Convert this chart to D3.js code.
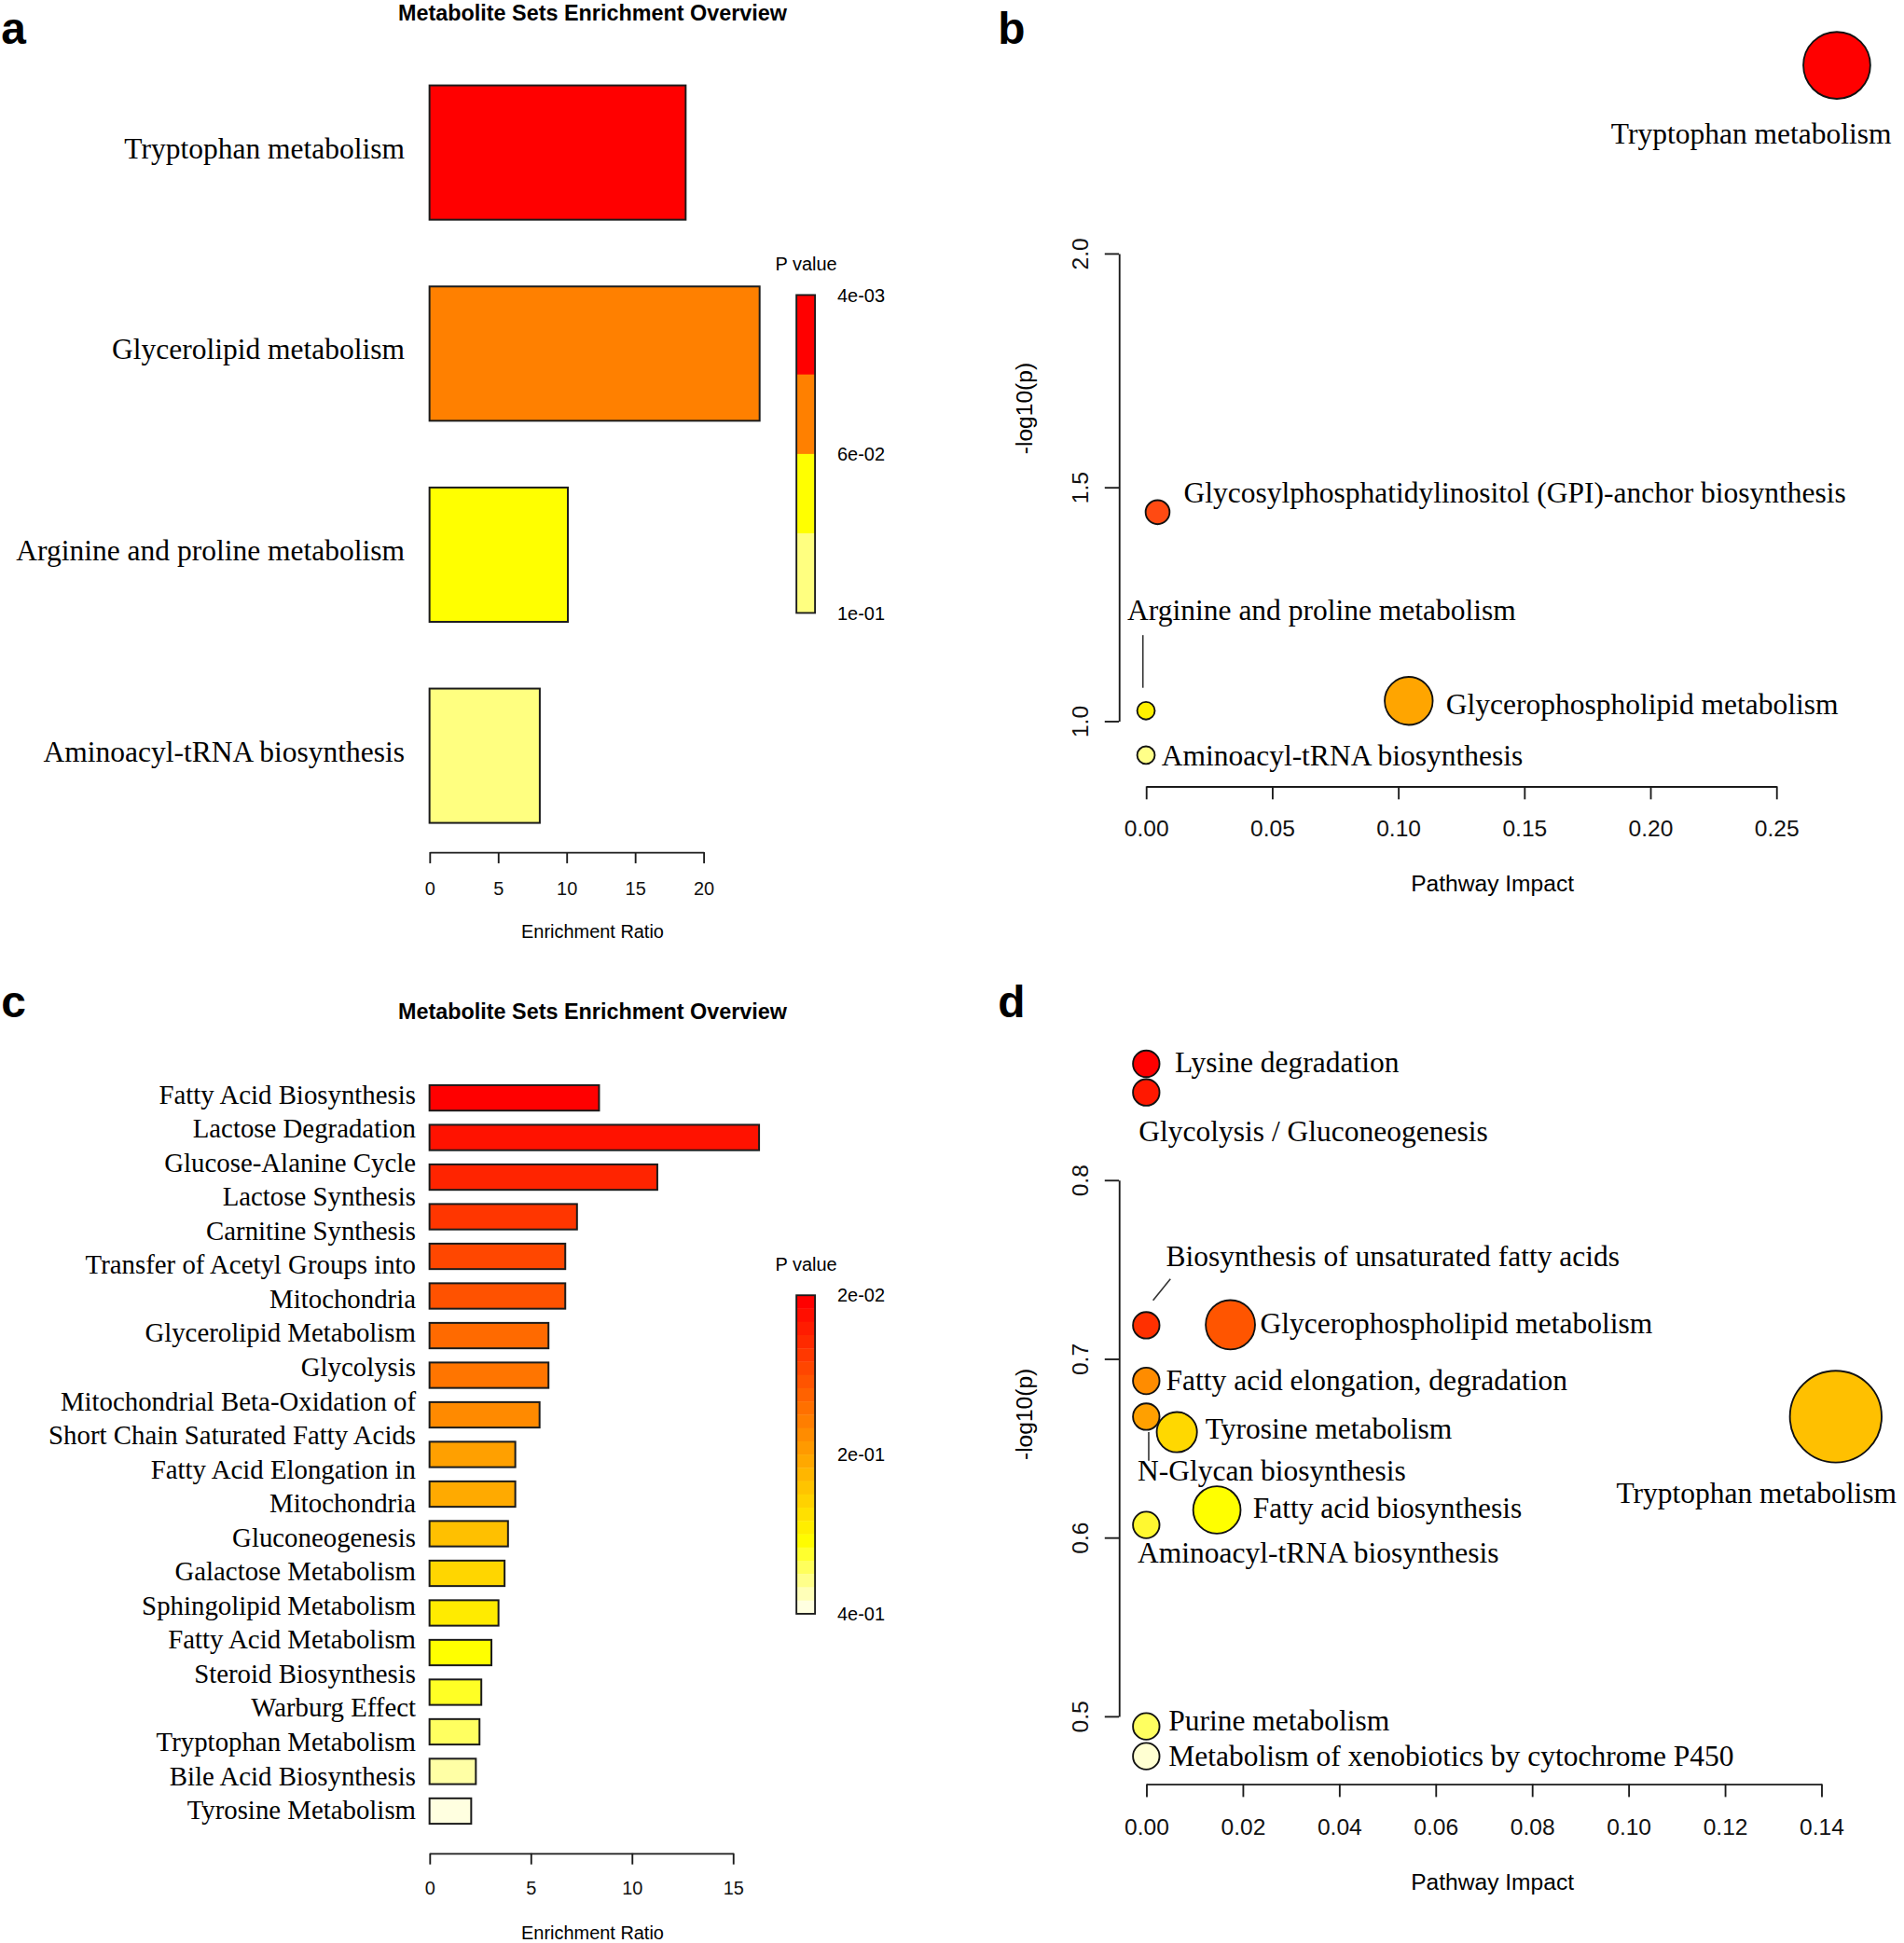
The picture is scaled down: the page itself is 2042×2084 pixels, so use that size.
<!DOCTYPE html>
<html>
<head>
<meta charset="utf-8">
<script src="https://cdn.jsdelivr.net/npm/d3@7"></script>
<style>
  body { margin: 0; background: #fff; }
  svg { display: block; }
</style>
</head>
<body>
<svg id="fig"></svg>
<script>

// ---- panel a : enrichment overview (4 sets)
const aSets = ["Tryptophan metabolism", "Glycerolipid metabolism", "Arginine and proline metabolism", "Aminoacyl-tRNA biosynthesis"]
const aRatio = [18.7, 24.1, 10.1, 8.05]
const aColors = ["#FF0000", "#FF8000", "#FFFF00", "#FFFF80"]
const aLegendColors = ["#FF0000", "#FF8000", "#FFFF00", "#FFFF80"]
const aLegendTicks = ["4e-03", "6e-02", "1e-01"]
const aTicks = [0, 5, 10, 15, 20]

// ---- panel b : pathway impact (5 pathways)
const bPathways = ["Tryptophan metabolism", "Glycosylphosphatidylinositol (GPI)-anchor biosynthesis", "Arginine and proline metabolism", "Glycerophospholipid metabolism", "Aminoacyl-tRNA biosynthesis"]
const bImpact = [0.274, 0.0046, 0.0, 0.1042, 0.0]
const bLogP = [2.402, 1.4465, 1.022, 1.043, 0.927]
const bColors = ["#FF0000", "#FF4A12", "#FFF000", "#FFA500", "#FFFF88"]
const bXTicks = [0, 0.05, 0.10, 0.15, 0.20, 0.25]
const bYTicks = [1.0, 1.5, 2.0]

// ---- panel c : enrichment overview (19 sets)
const cSets = ["Fatty Acid Biosynthesis", "Lactose Degradation", "Glucose-Alanine Cycle", "Lactose Synthesis", "Carnitine Synthesis",
  "Transfer of Acetyl Groups into\nMitochondria", "Glycerolipid Metabolism", "Glycolysis",
  "Mitochondrial Beta-Oxidation of\nShort Chain Saturated Fatty Acids", "Fatty Acid Elongation in\nMitochondria",
  "Gluconeogenesis", "Galactose Metabolism", "Sphingolipid Metabolism", "Fatty Acid Metabolism", "Steroid Biosynthesis",
  "Warburg Effect", "Tryptophan Metabolism", "Bile Acid Biosynthesis", "Tyrosine Metabolism"]
const cRatio = [8.38, 16.29, 11.26, 7.29, 6.71, 6.71, 5.88, 5.88, 5.44, 4.24, 4.24, 3.88, 3.71, 3.41, 3.06, 2.56, 2.47, 2.29, 2.06]
const cColors = ["#FF0000", "#FF1200", "#FF2400", "#FF3600", "#FF4700", "#FF5200", "#FF6A00", "#FF7500", "#FF8A00", "#FFA000",
  "#FFAA00", "#FFC000", "#FFD600", "#FFEB00", "#FFFF00", "#FFFF25", "#FFFF60", "#FFFFA5", "#FFFFE0"]
const cLegendColors = ["#FF0000", "#FF0E00", "#FF1C00", "#FF2A00", "#FF3800", "#FF4600", "#FF5400", "#FF6200", "#FF7000", "#FF7E00",
  "#FF8C00", "#FF9A00", "#FFA800", "#FFB600", "#FFC400", "#FFD200", "#FFE000", "#FFEE00", "#FFFC00", "#FFFF2E",
  "#FFFF5C", "#FFFF8A", "#FFFFB8", "#FFFFE0"]
const cLegendTicks = ["2e-02", "2e-01", "4e-01"]
const cTicks = [0, 5, 10, 15]

// ---- panel d : pathway impact (12 pathways)
const dPathways = ["Lysine degradation", "Glycolysis / Gluconeogenesis", "Biosynthesis of unsaturated fatty acids", "Glycerophospholipid metabolism",
  "Fatty acid elongation, degradation", "N-Glycan biosynthesis", "Tyrosine metabolism", "Fatty acid biosynthesis",
  "Aminoacyl-tRNA biosynthesis", "Tryptophan metabolism", "Purine metabolism", "Metabolism of xenobiotics by cytochrome P450"]
const dImpact = [0, 0, 0, 0.01745, 0, 0, 0.00635, 0.01465, 0, 0.1430, 0, 0]
const dLogP = [0.865, 0.849, 0.7187, 0.719, 0.6876, 0.6676, 0.6589, 0.6154, 0.607, 0.6676, 0.4943, 0.4776]
const dColors = ["#FF0000", "#FF1800", "#FF3000", "#FF5500", "#FF8C00", "#FFA000", "#FFD800", "#FFFF00", "#FFF830", "#FFC000", "#FFFF60", "#FFFFD2"]
const dXTicks = [0, 0.02, 0.04, 0.06, 0.08, 0.10, 0.12, 0.14]
const dYTicks = [0.5, 0.6, 0.7, 0.8]

// label placement (offset from the point: dx, baseline dy, anchor)
const bLabelPos = [[-69, 63, "middle"], [21, -7.5, "start"], [-15, -73, "start"], [30, 10.5, "start"], [12.5, 8, "start"]]
const bLeaders = [[2, -2.5, -61, -2.5, -18.5]]
const dLabelPos = [[23, 6.5, "start"], [-6, 39.5, "start"], [16, -47.5, "start"], [24, 6.5, "start"], [16, 7.5, "start"],
  [-7, 51.5, "start"], [23, 5.5, "start"], [29, 6.5, "start"], [-7, 30.5, "start"], [-64, 69.5, "middle"], [18, 3.5, "start"], [18, 8, "start"]]
const dLeaders = [[2, 5.5, -20, 19.5, -37.4], [5, 2, 12.5, 2, 35.6]]

const SERIF = "'Liberation Serif', 'Times New Roman', serif"
const SANS = "'Liberation Sans', Arial, sans-serif"
const INK = "#1b1b1b"

const svg = d3.select("#fig")
  .attr("width", 2042)
  .attr("height", 2084)
  .attr("viewBox", [0, 0, 1536, 1567.6])

svg.append("rect").attr("width", 1536).attr("height", 1567.6).attr("fill", "#fff")

function panelLetter(txt, x, y) {
  svg.append("text")
    .attr("x", x).attr("y", y)
    .style("font", `bold 36px ${SANS}`)
    .attr("fill", "#000")
    .text(txt)
}

function styleAxis(g) {
  g.select(".domain").attr("stroke", INK).attr("stroke-width", 1.4)
  g.selectAll(".tick line").attr("stroke", INK).attr("stroke-width", 1.4)
  g.selectAll(".tick text").attr("fill", "#111")
}

function barPanel(o) {
  const g = svg.append("g")
  const x = d3.scaleLinear().domain([0, d3.max(o.ticks)]).range(o.xRange)
  const y = d3.scaleBand().domain(d3.range(o.sets.length)).range(o.yRange).paddingInner(o.pad).paddingOuter(0)

  g.append("text")
    .attr("x", 478).attr("y", o.titleY)
    .attr("text-anchor", "middle")
    .style("font", `bold 17.6px ${SANS}`)
    .text("Metabolite Sets Enrichment Overview")

  g.append("g").selectAll("rect")
    .data(o.ratio)
    .join("rect")
    .attr("x", x(0))
    .attr("y", (d, i) => y(i))
    .attr("width", d => x(d) - x(0))
    .attr("height", y.bandwidth())
    .attr("fill", (d, i) => o.colors[i])
    .attr("stroke", INK)
    .attr("stroke-width", 1.5)

  // set names, one text per line
  const lines = o.sets.flatMap(s => s.split("\n"))
  const ly = o.lineRange
    ? d3.scalePoint().domain(d3.range(lines.length)).range(o.lineRange)
    : i => y(i) + y.bandwidth() / 2 + 4.5
  g.append("g").selectAll("text")
    .data(lines)
    .join("text")
    .attr("x", o.labelX)
    .attr("y", (d, i) => ly(i))
    .attr("text-anchor", "end")
    .style("font", `${o.labelSize}px ${SERIF}`)
    .attr("fill", "#000")
    .text(d => d)

  const ax = g.append("g")
    .attr("transform", `translate(0,${o.axisY})`)
    .call(d3.axisBottom(x).tickValues(o.ticks).tickSize(9).tickSizeOuter(0))
  ax.selectAll(".tick text").attr("y", o.tickBase).attr("dy", null).style("font", `15px ${SANS}`)
  styleAxis(ax)

  g.append("text")
    .attr("x", 478).attr("y", o.axisY + o.xlabBase)
    .attr("text-anchor", "middle")
    .style("font", `15px ${SANS}`)
    .text("Enrichment Ratio")

  // p value colour key
  const ky = d3.scaleBand().domain(d3.range(o.legendColors.length)).range(o.legendRange)
  g.append("text")
    .attr("x", 625.5).attr("y", o.legendRange[0] - 20)
    .style("font", `15px ${SANS}`)
    .text("P value")
  g.append("g").selectAll("rect")
    .data(o.legendColors)
    .join("rect")
    .attr("x", 642.5).attr("width", 15)
    .attr("y", (d, i) => ky(i))
    .attr("height", ky.bandwidth() + 0.3)
    .attr("fill", d => d)
  g.append("rect")
    .attr("x", 642.5).attr("width", 15)
    .attr("y", o.legendRange[0]).attr("height", o.legendRange[1] - o.legendRange[0])
    .attr("fill", "none").attr("stroke", INK).attr("stroke-width", 1.4)
  const kt = d3.scalePoint().domain(o.legendTicks).range(o.legendRange)
  g.append("g").selectAll("text")
    .data(o.legendTicks)
    .join("text")
    .attr("x", 675.5)
    .attr("y", d => kt(d))
    .attr("dy", "0.36em")
    .style("font", `15px ${SANS}`)
    .text(d => d)
}

function bubblePanel(o) {
  const g = svg.append("g")
  const x = d3.scaleLinear().domain(d3.extent(o.xTicks)).range(o.xRange)
  const y = d3.scaleLinear().domain(d3.extent(o.yTicks)).range(o.yRange)
  const r = d3.scaleSqrt().domain([0, d3.max(o.impact)]).range(o.rRange)

  const ax = g.append("g")
    .attr("transform", `translate(0,${o.xAxisY})`)
    .call(d3.axisBottom(x).tickValues(o.xTicks).tickFormat(d3.format(".2f")).tickSize(10.5).tickSizeOuter(0))
  ax.selectAll(".tick text").attr("y", o.tickBase).attr("dy", null).style("font", `18.5px ${SANS}`)
  styleAxis(ax)

  const ay = g.append("g")
    .attr("transform", `translate(${o.yAxisX},0)`)
    .call(d3.axisLeft(y).tickValues(o.yTicks).tickFormat(d3.format(".1f")).tickSize(11.5).tickSizeOuter(0))
  ay.selectAll(".tick text")
    .attr("x", null).attr("dy", null)
    .attr("text-anchor", "middle")
    .attr("transform", "translate(-25,0) rotate(-90)")
    .style("font", `18.5px ${SANS}`)
  styleAxis(ay)

  g.append("text")
    .attr("x", 1204).attr("y", o.xlabY)
    .attr("text-anchor", "middle")
    .style("font", `18.5px ${SANS}`)
    .text("Pathway Impact")
  g.append("text")
    .attr("transform", `translate(833,${o.ylabY}) rotate(-90)`)
    .attr("text-anchor", "middle")
    .style("font", `18.5px ${SANS}`)
    .text("-log10(p)")

  const px = i => x(o.impact[i])
  const py = i => y(o.logp[i])

  g.append("g").selectAll("line")
    .data(o.leaders)
    .join("line")
    .attr("x1", d => px(d[0]) + d[1]).attr("y1", d => py(d[0]) + d[2])
    .attr("x2", d => px(d[0]) + d[3]).attr("y2", d => py(d[0]) + d[4])
    .attr("stroke", "#333").attr("stroke-width", 1.2)

  g.append("g").selectAll("circle")
    .data(o.names)
    .join("circle")
    .attr("cx", (d, i) => px(i))
    .attr("cy", (d, i) => py(i))
    .attr("r", (d, i) => r(o.impact[i]))
    .attr("fill", (d, i) => o.colors[i])
    .attr("stroke", "#111")
    .attr("stroke-width", 1.4)

  g.append("g").selectAll("text")
    .data(o.names)
    .join("text")
    .attr("x", (d, i) => px(i) + o.labelPos[i][0])
    .attr("y", (d, i) => py(i) + o.labelPos[i][1])
    .attr("text-anchor", (d, i) => o.labelPos[i][2])
    .style("font", `23.7px ${SERIF}`)
    .attr("fill", "#000")
    .text(d => d)
}

panelLetter("a", 1, 35)
panelLetter("b", 805, 35)
panelLetter("c", 1, 821)
panelLetter("d", 805, 821)

barPanel({
  sets: aSets, ratio: aRatio, colors: aColors, ticks: aTicks,
  xRange: [346.5, 567.5], yRange: [68.9, 663.9], pad: 0.332,
  titleY: 16.6, labelX: 326.5, labelSize: 23.7,
  axisY: 687.5, tickBase: 34.8, xlabBase: 69,
  legendColors: aLegendColors, legendTicks: aLegendTicks, legendRange: [238, 494.5]
})

barPanel({
  sets: cSets, ratio: cRatio, colors: cColors, ticks: cTicks,
  xRange: [346.5, 591.3], yRange: [875.5, 1471.4], pad: 0.358,
  titleY: 822.5, labelX: 335.5, labelSize: 21.7, lineRange: [890.3, 1467.6],
  axisY: 1495.2, tickBase: 33.5, xlabBase: 69.4,
  legendColors: cLegendColors, legendTicks: cLegendTicks, legendRange: [1045, 1302]
})

bubblePanel({
  names: bPathways, impact: bImpact, logp: bLogP, colors: bColors,
  xTicks: bXTicks, yTicks: bYTicks,
  xRange: [924.5, 1433], yRange: [581.7, 204.4], rRange: [7.1, 27],
  xAxisY: 634.4, tickBase: 40.6, yAxisX: 902.7, xlabY: 719, ylabY: 329.5,
  labelPos: bLabelPos, leaders: bLeaders
})

bubblePanel({
  names: dPathways, impact: dImpact, logp: dLogP, colors: dColors,
  xTicks: dXTicks, yTicks: dYTicks,
  xRange: [924.7, 1469.3], yRange: [1384.6, 952], rRange: [10.7, 37],
  xAxisY: 1439.3, tickBase: 41.3, yAxisX: 902.7, xlabY: 1525, ylabY: 1141,
  labelPos: dLabelPos, leaders: dLeaders
})

</script>
</body>
</html>
